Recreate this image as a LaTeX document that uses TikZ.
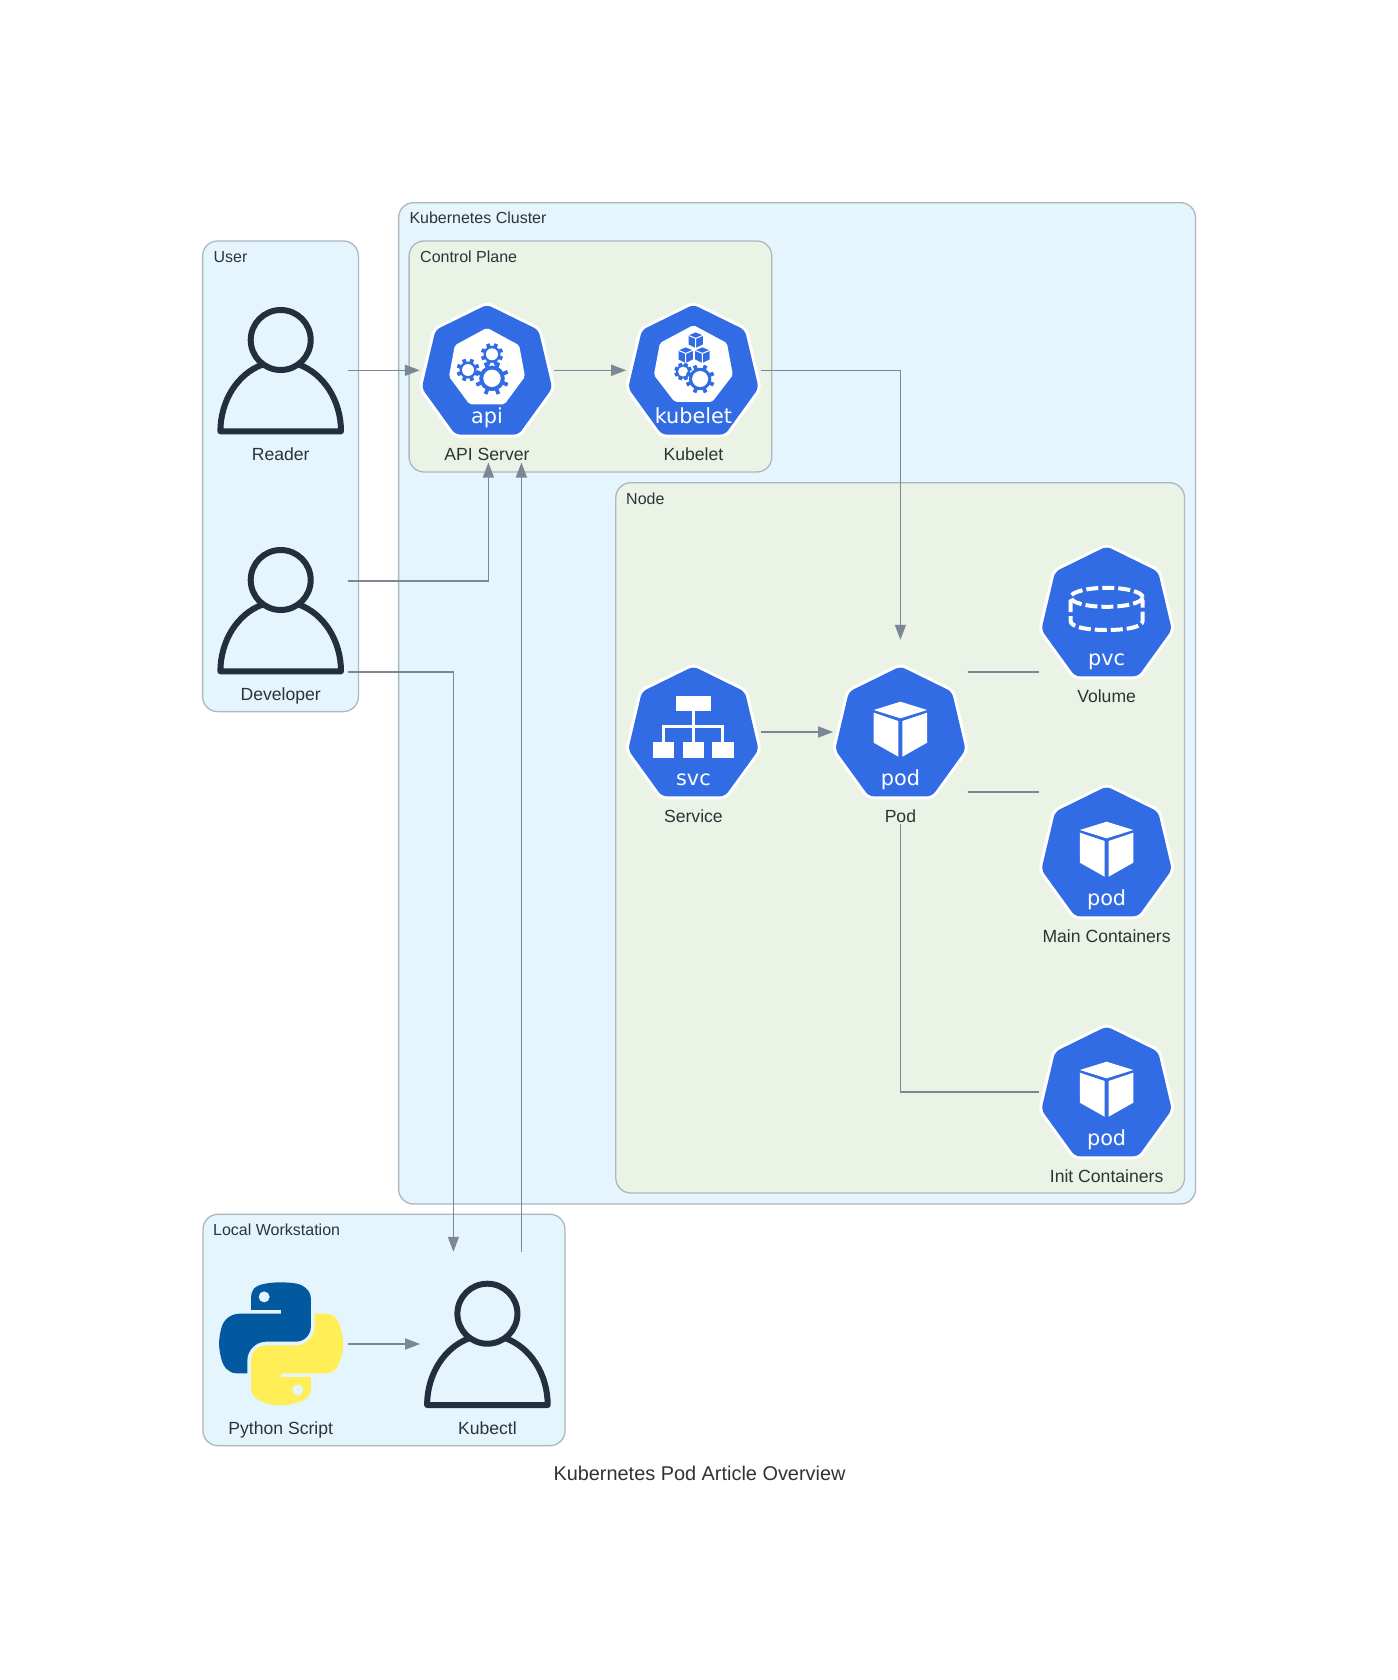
\documentclass[tikz,border=0pt]{standalone}
\usepackage{fontspec}
\setmainfont{Liberation Sans}
\newfontfamily\kfont{DejaVu Sans}
\usetikzlibrary{arrows.meta,svg.path}
\definecolor{kblue}{HTML}{326CE5}
\definecolor{clblue}{HTML}{E5F5FD}
\definecolor{clgreen}{HTML}{EBF3E7}
\definecolor{clline}{HTML}{AEB6BE}
\definecolor{edgec}{HTML}{7B8794}
\definecolor{txt}{HTML}{2D3436}
\definecolor{navy}{HTML}{232F3E}
\definecolor{pyblue}{HTML}{02599F}
\definecolor{pyyellow}{HTML}{FFEE55}
\newcommand\kheptpath{(0,-65.6) -- (51.5,-40.3) -- (65.2,17.8) -- (31.6,64.3) -- (-31.6,64.3) -- (-65.2,17.8) -- (-51.5,-40.3) -- cycle}
\newcommand\kgear[5]{%
  \foreach \a in {0,45,...,315} \draw[kblue,line width=3.8pt] (#1,#2) -- ++(\a+22.5:#5);
  \fill[kblue] (#1,#2) circle (#4);
  \fill[white] (#1,#2) circle (#3);
}
\newcommand\kcube[2]{%
  \begin{scope}[shift={(#1,#2)}]
    \fill[kblue] (0,-7.6) -- (7.2,-4.6) -- (7.2,4.4) -- (0,8) -- (-7.2,4.4) -- (-7.2,-4.6) -- cycle;
    \draw[white,line width=1pt] (-7.2,-4.6) -- (0,-1.6) -- (7.2,-4.6) (0,-1.6) -- (0,8);
  \end{scope}
}
\tikzset{
  x=1pt,y=-1pt,
  cluster/.style={draw=clline,line width=1.3pt,rounded corners=15pt},
  clabel/.style={anchor=base west,inner sep=0pt,text=txt,font=\fontsize{16}{18}\selectfont},
  nlabel/.style={anchor=base,inner sep=0pt,text=txt,font=\fontsize{17.6}{20}\selectfont},
  box/.style={rectangle,minimum width=134pt,minimum height=184pt,inner sep=0pt},
  edge/.style={draw=edgec,line width=1.4pt,-{Triangle[length=15pt,width=11pt]}},
  link/.style={draw=edgec,line width=1.4pt},
  person/.pic={
    \draw[navy,line width=6pt] (0,-30.3) circle (30);
    \draw[navy,line width=6pt,line join=round] (-18.1,-5.76) .. controls (-43.2,3.43) and (-60.3,30.4) .. (-60.3,61) -- (60.3,61) .. controls (60.3,30.4) and (43.2,3.43) .. (18.1,-5.76);
  },
  kube/.pic={
    \draw[white,line width=6pt,line join=round,rounded corners=5pt] \kheptpath;
    \fill[kblue,rounded corners=5pt] \kheptpath;
    \node[anchor=base,inner sep=0pt,text=white,font=\kfont\fontsize{20.8}{22}\selectfont] (-t) at (0,53) {#1};
  },
  cube/.pic={
    \fill[white] (0,-30.3) -- (26.7,-22) -- (0,-13.7) -- (-26.7,-22) -- cycle;
    \fill[white] (-26.7,-19.3) -- (-2,-11) -- (-2,24.7) -- (-26.7,10.7) -- cycle;
    \fill[white] (2,-11) -- (26.7,-19.3) -- (26.7,10.7) -- (2,24.7) -- cycle;
  },
  svcicon/.pic={
    \fill[white] (-17.3,-36.3) rectangle (17.3,-20.7);
    \fill[white] (-40.5,10.3) rectangle (-19,25.7);
    \fill[white] (-10.7,10.3) rectangle (10.7,25.7);
    \fill[white] (19,10.3) rectangle (40.5,25.7);
    \draw[white,line width=3pt] (0,-21) -- (0,11);
    \draw[white,line width=3pt] (-29.5,11) -- (-29.5,-5.5) -- (29.5,-5.5) -- (29.5,11);
  },
  pvcicon/.pic={
    \draw[white,line width=4pt,dash pattern=on 12pt off 4pt] (0,-14.7) ellipse [x radius=36,y radius=9.5];
    \draw[white,line width=4pt,dash pattern=on 12pt off 4pt] (-36,-12) -- (-36,9) .. controls (-36,15) and (-20,18) .. (0,18) .. controls (20,18) and (36,15) .. (36,9) -- (36,-12);
  },
  apiicon/.pic={
    \fill[white,rounded corners=2pt] (0,-42.5) -- (32.2,-25) -- (38,6.3) -- (17.5,34) -- (-17.5,34) -- (-38,6.3) -- (-32.2,-25) -- cycle;
    \kgear{-19}{-0.3}{6}{8.5}{11.5}
    \kgear{5}{-16}{6}{8.5}{11.2}
    \kgear{5}{8}{8.7}{12.8}{17}
  },
  kubeleticon/.pic={
    \fill[white,rounded corners=2pt] (0,-45.2) -- (33.5,-27.3) -- (39.5,4.7) -- (18.8,31.6) -- (-18.8,31.6) -- (-39.5,4.7) -- (-33.5,-27.3) -- cycle;
    \kcube{2.3}{-30.3}
    \kcube{-7.7}{-15.3}
    \kcube{9}{-15.3}
    \kgear{-10.3}{1.3}{5}{7}{8.8}
    \kgear{6.7}{8.7}{8}{11.2}{14.6}
  }
}
\begin{document}
\begin{tikzpicture}
\path[use as bounding box,fill=white] (0,0) rectangle (1397,1680);

% clusters
\path[cluster,fill=clblue] (398.6,202.7) rectangle (1195.5,1204);
\path[cluster,fill=clblue] (202.6,241) rectangle (358.4,711.6);
\path[cluster,fill=clblue] (203,1214.3) rectangle (565,1445.7);
\path[cluster,fill=clgreen] (409.1,241) rectangle (771.8,472);
\path[cluster,fill=clgreen] (615.8,482.7) rectangle (1184.5,1193);
\node[clabel] (lcluster) at (409.3,224) {Kubernetes Cluster};
\node[clabel] (luser) at (213.4,262.3) {User};
\node[clabel] (lcontrol) at (420,262.3) {Control Plane};
\node[clabel] (lnode) at (626,504) {Node};
\node[clabel] (llocal) at (213,1235.7) {Local Workstation};

% node boxes
\node[box] (reader) at (280.7,370.3) {};
\node[box] (dev) at (280.7,610.3) {};
\node[box] (api) at (487,370.3) {};
\node[box] (kubelet) at (693.4,370.3) {};
\node[box] (svc) at (693.4,732) {};
\node[box] (pod) at (900.4,732) {};
\node[box] (vol) at (1106.6,612) {};
\node[box] (main) at (1106.6,852) {};
\node[box] (init) at (1106.6,1092) {};
\node[box] (py) at (280.7,1344) {};
\node[box] (kubectl) at (487.4,1344) {};

% icons
\pic at (reader) {person};
\pic at (dev) {person};
\pic at (kubectl) {person};
\pic (iapi) at (api) {kube=api};
\pic at (api) {apiicon};
\pic (ikubelet) at (kubelet) {kube=kubelet};
\pic at (kubelet) {kubeleticon};
\pic (isvc) at (svc) {kube=svc};
\pic at (svc) {svcicon};
\pic (ipod) at (pod) {kube=pod};
\pic at (pod) {cube};
\pic (ivol) at (vol) {kube=pvc};
\pic at (vol) {pvcicon};
\pic (imain) at (main) {kube=pod};
\pic at (main) {cube};
\pic (iinit) at (init) {kube=pod};
\pic at (init) {cube};

% python logo
\begin{scope}[shift={(219.1,1282.3)},xscale=1.115,yscale=-1.095]
\fill[pyblue,even odd rule] svg {M 54.919 0.001 c -4.584 0.022 -8.961 0.413 -12.813 1.095 C 30.76 3.099 28.7 7.295 28.7 15.032 v 10.219 h 26.813 v 3.406 H 28.7 h -10.062 c -7.792 0 -14.616 4.684 -16.75 13.594 c -2.462 10.213 -2.571 16.586 0 27.25 c 1.906 7.938 6.458 13.594 14.25 13.594 h 9.219 v -12.25 c 0 -8.85 7.657 -16.656 16.75 -16.656 h 26.781 c 7.455 0 13.406 -6.138 13.406 -13.625 V 15.032 c 0 -7.266 -6.13 -12.725 -13.406 -13.937 C 64.283 0.328 59.502 -0.02 54.919 0.001 z M 40.419 8.219 c 2.77 0 5.031 2.299 5.031 5.125 c 0 2.816 -2.262 5.094 -5.031 5.094 c -2.78 0 -5.031 -2.278 -5.031 -5.094 c 0 -2.826 2.252 -5.125 5.031 -5.125 z};
\fill[pyyellow,even odd rule] svg {M 85.638 28.657 v 11.906 c 0 9.231 -7.826 17 -16.75 17 H 42.106 c -7.336 0 -13.406 6.278 -13.406 13.625 v 25.531 c 0 7.266 6.319 11.54 13.406 13.625 c 8.487 2.496 16.626 2.947 26.781 0 c 6.75 -1.954 13.406 -5.888 13.406 -13.625 V 86.501 H 55.513 v -3.406 h 40.188 c 7.792 0 10.696 -5.435 13.406 -13.594 c 2.799 -8.399 2.68 -16.476 0 -27.25 c -1.926 -7.757 -5.604 -13.594 -13.406 -13.594 H 85.638 z M 70.575 93.313 c 2.78 0 5.031 2.278 5.031 5.094 c 0 2.826 -2.252 5.125 -5.031 5.125 c -2.77 0 -5.031 -2.299 -5.031 -5.125 c 0 -2.816 2.262 -5.094 5.031 -5.094 z};
\end{scope}

% labels
\node[nlabel] (treader) at (280.7,460.3) {Reader};
\node[nlabel] (tdev) at (280.7,700.3) {Developer};
\node[nlabel] (tapi) at (487,460.3) {API Server};
\node[nlabel] (tkubelet) at (693.4,460.3) {Kubelet};
\node[nlabel] (tsvc) at (693.4,822) {Service};
\node[nlabel] (tpod) at (900.4,822) {Pod};
\node[nlabel] (tvol) at (1106.6,702) {Volume};
\node[nlabel] (tmain) at (1106.6,942) {Main Containers};
\node[nlabel] (tinit) at (1106.6,1182) {Init Containers};
\node[nlabel] (tpy) at (280.7,1434.3) {Python Script};
\node[nlabel] (tkubectl) at (487.4,1434.3) {Kubectl};
\node[anchor=base,inner sep=0pt,text=txt,font=\fontsize{19.9}{22}\selectfont] (title) at (699.5,1480) {Kubernetes Pod Article Overview};

% edges
\draw[edge] (reader.east) -- (api.west);
\draw[edge] (api.east) -- (kubelet.west);
\draw[edge] (kubelet.east) -| (pod.north);
\draw[edge] ([yshift=29.3pt]dev.east) -| ([xshift=1.4pt]api.south);
\draw[edge] ([yshift=-61.7pt]dev.east) -| ([xshift=-34pt]kubectl.north);
\draw[edge] ([xshift=34pt]kubectl.north) -- ([xshift=34.4pt]api.south);
\draw[edge] (py.east) -- (kubectl.west);
\draw[edge] (svc.east) -- (pod.west);
\draw[link] ([yshift=60pt]pod.east) -- ([yshift=-60pt]vol.west);
\draw[link] ([yshift=-60pt]pod.east) -- ([yshift=60pt]main.west);
\draw[link] (pod.south) |- (init.west);
\end{tikzpicture}
\end{document}
